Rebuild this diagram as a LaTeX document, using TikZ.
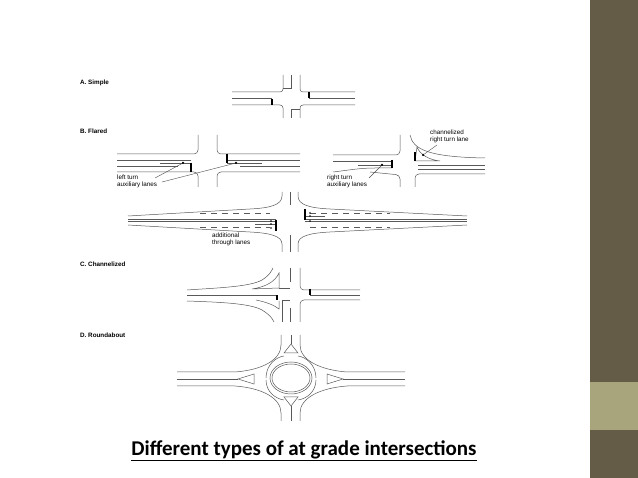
\documentclass[tikz,border=0pt]{standalone}
\usepackage{fontspec}
\setmainfont{Liberation Sans}
\newfontfamily\titlefont{Carlito}
\begin{document}
\begin{tikzpicture}[x=1pt,y=-1pt,
  road/.style={line width=0.5pt,draw=black!65},
  bar/.style={line width=1.3pt,draw=black},
  lbl/.style={font=\fontsize{6.3}{6.3}\selectfont\bfseries,anchor=west,inner sep=0},
  note/.style={font=\fontsize{6.3}{6.6}\selectfont,align=left,anchor=north west,inner sep=0},
  lead/.style={line width=0.4pt,draw=black!70},
  dot/.style={circle,fill=black,inner sep=0,minimum size=2.5pt}]
\useasboundingbox (0,0) rectangle (638,478);
\fill[white] (0,0) rectangle (638,478);
\fill[color={rgb,255:red,101;green,92;blue,71}] (590,0) rectangle (638,478);
\fill[color={rgb,255:red,168;green,164;blue,124}] (590,382) rectangle (638,430);
% ---- A. Simple
\node[lbl] (la) at (80,83) {A. Simple};
\draw[road,rounded corners=3] (232,92)--(283,92)--(283,75) (300,75)--(300,92)--(355,92)
  (232,105)--(283,105)--(283,118) (355,105)--(300,105)--(300,118);
\draw[road] (232,98.5)--(272,98.5) (309,98.5)--(355,98.5) (291.5,75)--(291.5,88) (291.5,109)--(291.5,118);
\draw[bar] (272,99)--(272,105) (309,92)--(309,98);
\draw[road] (283,88)--(291.5,88) (291.5,109)--(300,109);
% ---- B. Flared left
\node[lbl] (lb) at (80,131) {B. Flared};
\draw[road,rounded corners=4] (117,154)--(198,154)--(198,135) (217,135)--(217,154)--(300,154)
  (117,172)--(198,172)--(198,187) (300,172)--(217,172)--(217,187);
\draw[road] (117,160)--(191,160) (117,166)--(178,166) (227,160)--(300,160) (240,166)--(300,166)
  (160,163)--(191,163) (227,163)--(262,163);
\draw[bar] (191,163)--(191,172) (227,154)--(227,163);
\node[dot] (d1) at (183,163) {};
\node[dot] (d2) at (236,163) {};
\node[note] (n1) at (117,175) {left turn\\auxiliary lanes};
\draw[lead] (155,178)--(d1) (162,182)--(d2);
% ---- B. Flared right
\draw[road,rounded corners=4] (333,155)--(400,155)--(400,135) (400,187)--(400,175)--(370,172);
\draw[road] (333,172) .. controls (350,170) and (360,168) .. (375,168) -- (392,168);
\draw[road] (333,161)--(392,161) (358,165)--(392,165);
\draw[road] (410,135) .. controls (413,150) and (430,157) .. (485,158);
\draw[road] (417,147) .. controls (420,155) and (430,160) .. (440,161) -- (415,161) -- cycle;
\draw[road] (418,165)--(485,165) (418,169)--(485,169);
\draw[road,rounded corners=4] (415,187)--(415,174)--(485,174);
\draw[bar] (392,160)--(392,168) (415,152)--(415,161);
\node[dot] (d3) at (382,165) {};
\node[dot] (d4) at (423,155) {};
\node[note] (n2) at (327,175) {right turn\\auxiliary lanes};
\node[note] (n3) at (430,130) {channelized\\right turn lane};
\draw[lead] (369,178)--(d3) (437,145)--(d4);
% ---- B. Flared lower
\draw[road] (128,216)--(250,209) .. controls (270,208) and (282,205) .. (282,196)--(282,192);
\draw[road] (467,216)--(330,209) .. controls (310,208) and (298,205) .. (298,196)--(298,192);
\draw[road] (128,225)--(250,232) .. controls (270,233) and (282,236) .. (282,244)--(282,252);
\draw[road] (467,225)--(330,232) .. controls (310,233) and (298,236) .. (298,244)--(298,252);
\draw[road] (290,192)--(290,205) (290,235)--(290,252);
\draw[road] (128,219)--(276,219) (128,221.5)--(276,221.5) (305,219)--(467,219) (305,221.5)--(467,221.5);
\draw[road,dash pattern=on 6pt off 5pt] (200,213)--(270,213) (200,227)--(270,227) (310,213)--(390,213) (310,227)--(390,227);
\draw[road] (255,224)--(276,224) (305,216)--(325,216);
\draw[bar] (276,220)--(276,231) (305,209)--(305,220);
\node[dot,minimum size=1.8pt] at (271,224) {};
\node[dot,minimum size=1.8pt] at (271,228) {};
\node[dot,minimum size=1.8pt] at (271,221) {};
\node[dot,minimum size=1.8pt] at (310,213) {};
\node[dot,minimum size=1.8pt] at (310,216) {};
\node[dot,minimum size=1.8pt] at (310,221) {};
\node[note] (n4) at (212,233) {additional\\through lanes};
% ---- C. Channelized
\node[lbl] (lc) at (80,264) {C. Channelized};
\draw[road] (187,290) .. controls (215,288) and (250,287) .. (262,280) .. controls (270,275) and (272,270) .. (273,268);
\draw[road] (252,289) .. controls (265,287) and (275,282) .. (279,273) -- (279,288) -- (252,289);
\draw[road] (279,288)--(290,288) (290,268)--(290,282);
\draw[road] (187,301) .. controls (215,302) and (250,303) .. (262,310) .. controls (270,315) and (272,318) .. (274,322);
\draw[road] (256,300) .. controls (266,302) and (274,305) .. (279,309) -- (279,301);
\draw[road] (282,322)--(282,300)--(290,300) (290,308)--(290,322);
\draw[road,rounded corners=4] (300,268)--(300,290)--(360,290) (300,322)--(300,300)--(360,300);
\draw[road] (187,295)--(277,295) (310,295)--(360,295);
\draw[bar] (277,295)--(277,300) (310,289)--(310,295);
% ---- D. Roundabout
\node[lbl] (ld) at (80,335) {D. Roundabout};
\draw[road] (177,372)--(235,372) .. controls (262,370) and (281,360) .. (281,345)--(281,335);
\draw[road] (405,372)--(347,372) .. controls (320,370) and (300,360) .. (300,345)--(300,335);
\draw[road] (177,386)--(235,386) .. controls (262,388) and (281,398) .. (281,413)--(281,421);
\draw[road] (405,386)--(347,386) .. controls (320,388) and (300,398) .. (300,413)--(300,421);
\draw[road] (291,335)--(291,344) (291,406)--(291,421) (177,379)--(238,379) (343,379)--(405,379);
\draw[road] (284,353)--(298,353)--(291,344)--cycle (284,397)--(298,397)--(291,406)--cycle
  (254,374)--(254,384)--(238,379)--cycle (327,374)--(327,384)--(343,379)--cycle;
\draw[road] (291,378) ellipse [x radius=21,y radius=16];
\draw[road] (291,378) ellipse [x radius=19,y radius=14];
\draw[road] (266,378) .. controls (266,365) and (276,357) .. (284,356)
  (316,378) .. controls (316,365) and (306,357) .. (298,356)
  (266,380) .. controls (266,392) and (276,399) .. (284,400)
  (316,380) .. controls (316,392) and (306,399) .. (298,400);
% ---- Title
\node[font=\titlefont\bfseries\fontsize{21}{22}\selectfont,inner sep=0] (title) at (304,451) {\underline{Different types of at grade intersections}};
\end{tikzpicture}
\end{document}
